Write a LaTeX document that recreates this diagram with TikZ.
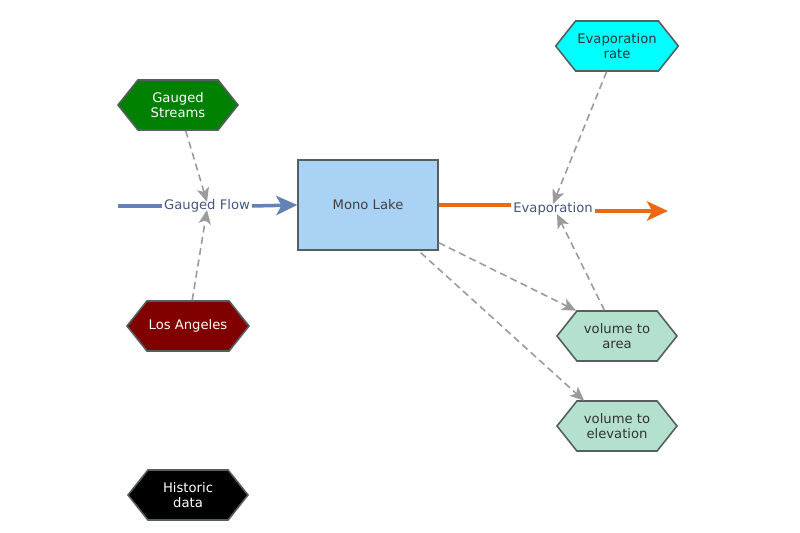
\documentclass[tikz,border=0pt]{standalone}
\usepackage{fontspec}
\setmainfont{DejaVu Sans}
\usepackage{xcolor}
\usetikzlibrary{shapes,arrows.meta,positioning,calc}

\definecolor{lakeblue}{RGB}{170,210,245}
\definecolor{edgegray}{RGB}{85,95,95}
\definecolor{linkgray}{RGB}{155,155,155}
\definecolor{inflowblue}{RGB}{100,130,180}
\definecolor{outfloworange}{RGB}{235,105,20}
\definecolor{labelblue}{RGB}{70,85,125}
\definecolor{streamgreen}{RGB}{0,128,0}
\definecolor{lamaroon}{RGB}{128,0,0}
\definecolor{ratecyan}{RGB}{0,255,255}
\definecolor{lookupgreen}{RGB}{180,225,205}

\begin{document}
\begin{tikzpicture}[
    x=0.02cm, y=-0.02cm,
    stock/.style={rectangle, draw=edgegray, fill=lakeblue, line width=0.8pt, minimum width=2.8cm, minimum height=1.8cm, font=\fontsize{7.5}{9}\selectfont, text=black!75},
    aux/.style={signal, signal to=east and west, signal pointer angle=103, draw=edgegray, line width=0.9pt, minimum width=2.4cm, minimum height=1cm, inner sep=1pt, align=center, font=\fontsize{7.5}{9}\selectfont},
    valve/.style={inner sep=1pt, font=\fontsize{7.5}{9}\selectfont, text=labelblue},
    flow/.style={line width=2pt, -{Stealth[length=12pt, width=11pt, inset=3pt]}},
    flowpipe/.style={line width=2pt},
    link/.style={-{Stealth[length=8pt, width=7pt, inset=2pt]}, dashed, dash pattern=on 4pt off 2.5pt, draw=linkgray, line width=0.9pt}
]
    \useasboundingbox (0,0) rectangle (800,533);

    % Stock
    \node[stock] (lake) at (368,205) {Mono Lake};

    % Auxiliaries
    \node[aux, fill=streamgreen, text=white] (streams) at (178,105) {Gauged\\Streams};
    \node[aux, fill=lamaroon, text=white] (la) at (188,326) {Los Angeles};
    \node[aux, fill=black, text=white] (hist) at (188,495) {Historic\\data};
    \node[aux, fill=ratecyan, text=black!80] (evrate) at (617,46) {Evaporation\\rate};
    \node[aux, fill=lookupgreen, text=black!80] (volarea) at (617,336) {volume to\\area};
    \node[aux, fill=lookupgreen, text=black!80] (volelev) at (617,426) {volume to\\elevation};

    % Flows
    \coordinate (source) at (118,206);
    \coordinate (sink) at (668,211);
    \node[valve] (inflow) at (207,206) {Gauged Flow};
    \node[valve] (outflow) at (553,209) {Evaporation};

    \draw[flowpipe, draw=inflowblue] (source) -- (inflow.west);
    \draw[flow, draw=inflowblue, fill=inflowblue] (inflow.east) -- (lake.west);
    \draw[flowpipe, draw=outfloworange] (lake.east) -- (lake.east -| outflow.west);
    \draw[flow, draw=outfloworange, fill=outfloworange] (outflow.east |- sink) -- (sink);

    % Links
    \draw[link] (streams) -- ($(inflow)+(0,-4)$);
    \draw[link] (la) -- ($(inflow)+(0,4)$);
    \draw[link] (evrate) -- ($(outflow)+(0,-5)$);
    \draw[link] (volarea) -- ($(outflow)+(4,5)$);
    \draw[link] (lake.south east) ++(0,-8) -- (volarea.north west);
    \draw[link] ($(lake.south east)+(-18,2)$) -- ($(volelev.north west)+(8,0)$);

\end{tikzpicture}
\end{document}
